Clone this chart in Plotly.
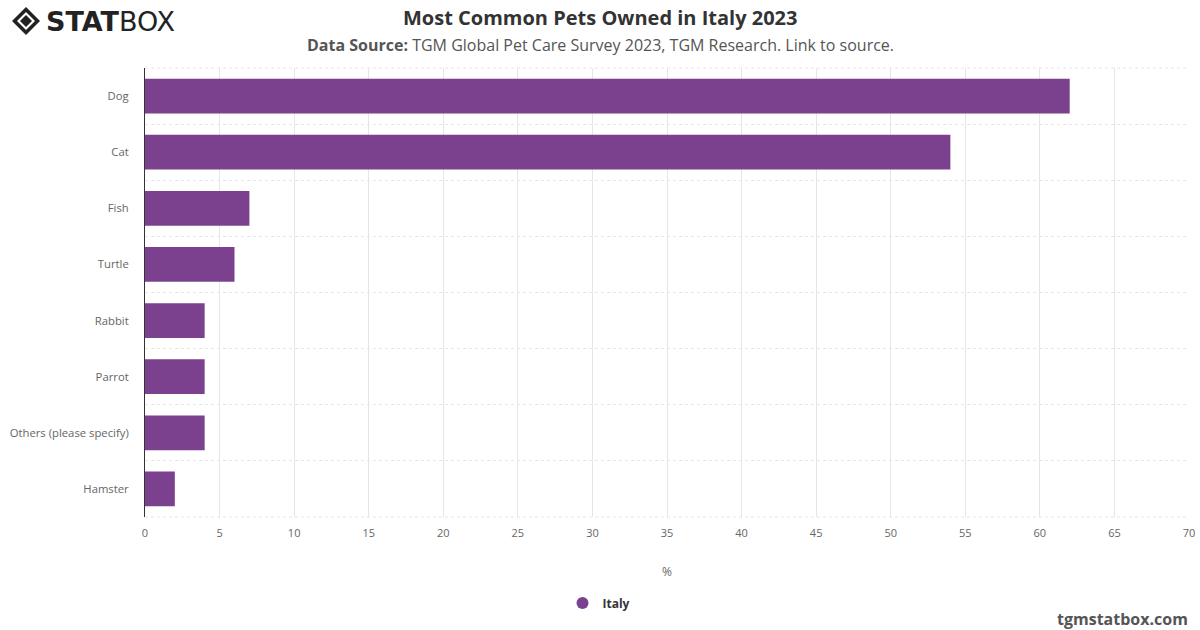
import plotly.graph_objects as go

categories = ["Dog", "Cat", "Fish", "Turtle", "Rabbit", "Parrot", "Others (please specify)", "Hamster"]
values = [62, 54, 7, 6, 4, 4, 4, 2]
series_name = "Italy"
x_ticks = list(range(0, 71, 5))

BAR = "#7b418f"
FONT = "Open Sans, DejaVu Sans, sans-serif"

L, R, T, B = 145, 11, 68, 113
W, H = 1200, 630
PW, PH = W - L - R, H - T - B

def px(xp):
    return (xp - L) / PW
def py(yp):
    return 1 - (yp - T) / PH

fig = go.Figure()
fig.add_trace(go.Bar(
    y=categories, x=values, orientation="h",
    marker=dict(color=BAR, line=dict(width=0)),
    name=series_name, showlegend=False,
))
fig.add_trace(go.Scatter(
    x=[None], y=[None], mode="markers", name=series_name,
    marker=dict(symbol="circle", size=12, color=BAR),
))

fig.update_layout(
    width=W, height=H,
    margin=dict(l=L, r=R, t=T, b=B),
    paper_bgcolor="white", plot_bgcolor="white",
    font=dict(family=FONT, color="#666"),
    bargap=0.38,
    showlegend=True,
    legend=dict(orientation="h", x=px(599), xanchor="center", y=py(603), yanchor="middle",
                font=dict(size=12, color="#333", family=FONT, weight="bold"),
                itemsizing="constant"),
    xaxis=dict(range=[0, 70], tickvals=x_ticks, showgrid=True, gridcolor="#e6e6e6",
               gridwidth=1, zeroline=False, showline=False, ticklabelstandoff=8,
               automargin=False,
               tickfont=dict(size=11, color="#666"),
               title=dict(text="%", font=dict(size=12, color="#666"), standoff=28)),
    yaxis=dict(autorange="reversed", type="category", tickson="boundaries",
               showgrid=True, gridcolor="#e6e6e6", griddash="dot", gridwidth=1,
               showline=True, linecolor="#333", linewidth=1, automargin=False,
               ticks="", ticklabelstandoff=13,
               tickfont=dict(size=11.3, color="#666")),
)

# dotted boundary lines at top and bottom of plot area
for yy in (0, 1):
    fig.add_shape(type="line", xref="paper", yref="paper", x0=0, x1=1, y0=yy, y1=yy,
                  line=dict(color="#e6e6e6", width=1, dash="dot"), layer="below")

# Title and subtitle
fig.add_annotation(text="<b>Most Common Pets Owned in Italy 2023</b>", xref="paper", yref="paper",
                   x=px(600), y=py(18), xanchor="center", yanchor="middle", showarrow=False,
                   font=dict(size=20, color="#333", family=FONT))
fig.add_annotation(text="<b>Data Source:</b> TGM Global Pet Care Survey 2023, TGM Research. Link to source.",
                   xref="paper", yref="paper", x=px(600), y=py(45), xanchor="center",
                   yanchor="middle", showarrow=False,
                   font=dict(size=16, color="#555", family=FONT))
# Logo
fig.add_annotation(text="<b>STAT</b>BOX", xref="paper", yref="paper", x=px(44), y=py(21),
                   xanchor="left", yanchor="middle", showarrow=False,
                   font=dict(size=27, color="#222", family="DejaVu Sans, sans-serif"))
cx, cy = 26, 21
for r, col in [(14, "#222"), (9, "white"), (6, "#222")]:
    fig.add_shape(type="path", xref="paper", yref="paper",
                  path=f"M {px(cx-r)} {py(cy)} L {px(cx)} {py(cy-r)} L {px(cx+r)} {py(cy)} L {px(cx)} {py(cy+r)} Z",
                  fillcolor=col, line=dict(width=0), layer="above")
# Footer
fig.add_annotation(text="<b>tgmstatbox.com</b>", xref="paper", yref="paper", x=px(1190), y=py(619),
                   xanchor="right", yanchor="middle", showarrow=False,
                   font=dict(size=16, color="#555", family=FONT))

fig.write_html("out.html")
